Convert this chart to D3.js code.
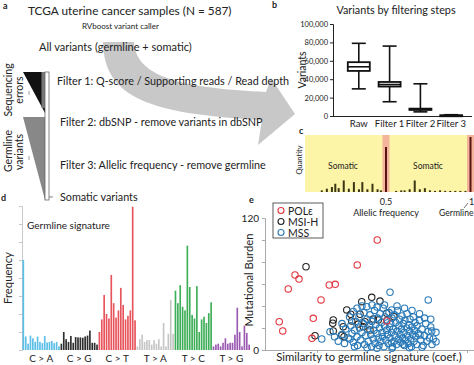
<!DOCTYPE html>
<html><head><meta charset="utf-8">
<script src="https://cdn.jsdelivr.net/npm/d3@7"></script>
<style>body{margin:0;background:#fff}svg{display:block}text{font-family:Lato,'Open Sans',sans-serif;fill:#222}</style>
</head><body><svg id="c" width="474" height="365"></svg>
<script>
// ---------- Panel b data ----------
const boxCategories = ["Raw", "Filter 1", "Filter 2", "Filter 3"];
const boxMin = [29500, 15500, 4500, 150];
const boxQ1 = [49000, 32000, 6600, 350];
const boxMedian = [53500, 34200, 7200, 550];
const boxQ3 = [58500, 37000, 8000, 800];
const boxMax = [79000, 76000, 35000, 1400];
const boxTicks = [0, 20000, 40000, 60000, 80000, 100000];

// ---------- Panel c data ----------
const afValues = [0.12,0.15,0.18,0.20,0.22,0.25,0.28,0.31,0.34,0.36,0.39,0.42,0.45,0.47,
                  0.56,0.59,0.61,0.64,0.67,0.70,0.73,0.76,0.79,0.82,0.85,0.88,0.91,0.94,0.97];
const afQuantity = [3,6,9,15,7,21,6,18,5,18,5,15,5,3,
                    2,3,3,5,21,5,7,3,2,3,2,2,2,2,2];
const peakAF = [0.5, 1];
const peakQuantity = [82, 100];
const afTickLabels = ["0.5", "1"];

// ---------- Panel d data ----------
const signatureGroups = ["C > A", "C > G", "C > T", "T > A", "T > C", "T > G"];
const sigCA = [5.0,0.75,0.35,0.8,0.65,0.45,0.75,0.45,0.38,0.78,0.42,0.45,0.5,0.38,0.45,0.2];
const sigCG = [0.35,1.0,0.6,0.45,0.78,0.4,0.72,0.7,0.7,0.68,0.75,0.8,1.08,0.4,0.4,0.3];
const sigCT = [1.0,1.7,3.06,2.0,1.75,4.17,2.6,1.8,2.2,3.45,2.5,1.7,1.9,2.2,7.96,1.65];
const sigTA = [0.2,0.6,0.85,0.45,0.55,0.55,0.3,0.55,0.35,0.6,0.2,1.5,0.2,0.9,2.78,0.9];
const sigTC = [3.3,2.6,3.6,2.4,2.2,5.8,3.5,1.95,1.75,3.55,1.0,1.7,1.85,1.5,2.05,2.65];
const sigTG = [0.2,0.3,0.35,0.2,0.4,0.65,0.35,0.4,0.4,0.85,2.35,1.0,0.2,1.35,0.95,0.3];
const sigColors = ["#5bbfe8", "#2e2e2e", "#e8545c", "#c6c6c6", "#3fae58", "#9c5bb2"];

// ---------- Panel e data (similarity coef., mutational burden) ----------
const polePoints = [[0.441,100],[0.361,77.3],[0.112,68.2],[0.128,64.5],[0.085,55.5],[0.249,59.1],
  [0.273,59.7],[0.216,45.5],[0.049,25.7],[0.063,17.3],[0.185,28.8],[0.18,10.6],[0.479,26.4]];
const msihPoints = [[0.156,75.7],[0.419,47.9],[0.452,44.5],[0.379,43.9],[0.319,36.4],[0.372,32.5],
  [0.335,32.5],[0.265,27.3],[0.263,24.3],[0.339,26.4],[0.392,25.7],[0.305,21.2],[0.265,17.3],
  [0.299,13.6],[0.308,12.1],[0.192,13],[0.479,33.4],[0.508,30.3],[0.425,28.2],[0.445,27.3],
  [0.385,21.2],[0.412,18.2],[0.365,23.6]];
const mssPoints = [[0.492,52.5],[0.645,45.5],[0.399,39.4],[0.219,10],[0.252,16.6],[0.332,10],
  [0.659,17.3],[0.676,16.1],[0.665,10],[0.676,7.5],[0.545,5.2],[0.499,6.6],[0.612,13.6],[0.499,36.4],
  [0.27,12],[0.285,8],[0.3,14],[0.31,6],[0.315,19],[0.325,11],[0.335,22],[0.34,15],[0.345,7],[0.35,18],
  [0.355,26],[0.36,12],[0.362,4],[0.368,30],[0.37,20],[0.375,9],[0.38,16],[0.385,24],[0.388,34],[0.39,5],
  [0.395,13],[0.4,28],[0.402,19],[0.405,8],[0.41,22],[0.412,32],[0.415,14],[0.418,3],[0.42,26],[0.425,10],
  [0.428,18],[0.43,36],[0.432,6],[0.435,23],[0.44,15],[0.442,29],[0.445,11],[0.448,4],[0.45,20],[0.452,33],
  [0.455,8],[0.458,25],[0.46,16],[0.462,12],[0.465,38],[0.468,3],[0.47,22],[0.472,30],[0.475,9],[0.478,18],
  [0.48,27],[0.482,14],[0.485,6],[0.488,34],[0.49,21],[0.492,11],[0.495,24],[0.498,16],[0.5,29],[0.502,3],
  [0.505,19],[0.508,8],[0.51,32],[0.512,13],[0.515,25],[0.518,5],[0.52,17],[0.522,36],[0.525,10],[0.528,22],
  [0.53,28],[0.532,14],[0.535,7],[0.538,19],[0.54,31],[0.542,11],[0.545,24],[0.548,16],[0.55,4],[0.552,27],
  [0.555,9],[0.558,20],[0.56,33],[0.562,13],[0.565,6],[0.568,23],[0.57,17],[0.572,28],[0.575,10],[0.578,3],
  [0.58,21],[0.582,14],[0.585,30],[0.588,8],[0.59,18],[0.592,25],[0.595,12],[0.598,5],[0.6,22],[0.605,15],
  [0.61,27],[0.615,9],[0.62,19],[0.625,4],[0.63,13],[0.635,24],[0.64,8],[0.645,17],[0.65,11],[0.655,21],
  [0.66,5],[0.3,24],[0.33,30],[0.345,35],[0.36,38],[0.38,40],[0.42,41],[0.44,39],[0.47,41],[0.52,40],
  [0.55,38],[0.58,36],[0.61,33],[0.63,29],[0.35,3],[0.4,2],[0.44,1.5],[0.5,1.5],[0.57,2],[0.62,2.5],[0.655,28]];
const legendLabels = ["POL\u03b5", "MSI-H", "MSS"];
const legendColors = ["#e0363e", "#222222", "#2a7ab8"];

const svg = d3.select("#c");
svg.append("rect").attr("width",474).attr("height",365).attr("fill","#fff");

function txt(g, x, y, s, size, opts={}) {
  const t = g.append("text").attr("x",x).attr("y",y).attr("font-size",size).text(s);
  if (opts.anchor) t.attr("text-anchor", opts.anchor);
  if (opts.weight) t.attr("font-weight", opts.weight);
  if (opts.rotate) t.attr("transform", `rotate(-90,${x},${y})`);
  if (opts.fill) t.style("fill", opts.fill);
  return t;
}

// ================= Panel a =================
const a = svg.append("g");
a.append("path")
  .attr("d", "M103,42 C104,98 150,114 262,120 L258,145 L295,114 L271,78 L266,92 C190,88 136,80 134,42 Z")
  .attr("fill", "#c8c8c8");
txt(a, 3, 9, "a", 9, {weight:"bold"});
txt(a, 28, 15, "TCGA uterine cancer samples (N = 587)", 11.8);
txt(a, 82, 29, "RVboost variant caller", 8);
txt(a, 39, 51, "All variants (germline + somatic)", 11);
txt(a, 57, 85, "Filter 1: Q-score / Supporting reads / Read depth", 10.8);
txt(a, 60, 126, "Filter 2: dbSNP - remove variants in dbSNP", 10.8);
txt(a, 60, 169, "Filter 3: Allelic frequency - remove germline", 10.8);
txt(a, 60, 201, "Somatic variants", 10.8);
a.append("polygon").attr("points","23,117 45,117 45,200").attr("fill","#888");
a.append("polygon").attr("points","23,72 45,72 45,113").attr("fill","#111");
a.append("rect").attr("x",41.5).attr("y",72).attr("width",3.5).attr("height",36).attr("fill","#777");
a.append("rect").attr("x",45).attr("y",72).attr("width",4).attr("height",128)
  .attr("fill","#fff").attr("stroke","#666").attr("stroke-width",0.8);
a.append("line").attr("x1",29).attr("x2",29).attr("y1",91).attr("y2",95).attr("stroke","#888").attr("stroke-width",0.8);
a.append("line").attr("x1",29).attr("x2",29).attr("y1",156).attr("y2",160).attr("stroke","#888").attr("stroke-width",0.8);
a.append("line").attr("x1",49).attr("x2",53).attr("y1",197).attr("y2",197).attr("stroke","#666").attr("stroke-width",0.8);
txt(a, 12, 90, "Sequencing", 10.5, {anchor:"middle", rotate:true});
txt(a, 23, 90, "errors", 10.5, {anchor:"middle", rotate:true});
txt(a, 12, 151, "Germline", 10.5, {anchor:"middle", rotate:true});
txt(a, 23, 152, "variants", 10.5, {anchor:"middle", rotate:true});

// ================= Panel b =================
const b = svg.append("g");
txt(b, 272, 8, "b", 9, {weight:"bold"});
txt(b, 396, 14, "Variants by filtering steps", 10.8, {anchor:"middle"});
const by = d3.scaleLinear().domain([0,100000]).range([116,24]);
const bx = d3.scaleBand().domain(boxCategories).range([338,472]).padding(0.35);
const yAxB = b.append("g").attr("transform","translate(333,0)")
  .call(d3.axisLeft(by).tickValues(boxTicks).tickFormat(d3.format(",")).tickSize(3).tickPadding(2));
yAxB.selectAll("text").attr("font-size",7.5).style("font-family","Lato,sans-serif");
yAxB.selectAll("path,line").attr("stroke","#222");
const xAxB = b.append("g").attr("transform","translate(0,116)")
  .call(d3.axisBottom(bx).tickSize(0).tickPadding(4));
xAxB.select("path").attr("d","M333,0.5H472").attr("stroke","#222");
xAxB.selectAll("text").attr("font-size",9.5).style("font-family","Lato,sans-serif");
txt(b, 306, 70, "Variants", 10.5, {anchor:"middle", rotate:true});
boxCategories.forEach((c,i) => {
  const cx = bx(c) + bx.bandwidth()/2, w = 22, cw = 14;
  const g = b.append("g").attr("stroke","#111").attr("stroke-width",1.6).attr("fill","none");
  g.append("line").attr("x1",cx).attr("x2",cx).attr("y1",by(boxMax[i])).attr("y2",by(boxMin[i]));
  g.append("line").attr("x1",cx-cw/2).attr("x2",cx+cw/2).attr("y1",by(boxMax[i])).attr("y2",by(boxMax[i]));
  g.append("line").attr("x1",cx-cw/2).attr("x2",cx+cw/2).attr("y1",by(boxMin[i])).attr("y2",by(boxMin[i]));
  g.append("rect").attr("x",cx-w/2).attr("width",w).attr("y",by(boxQ3[i]))
    .attr("height",Math.max(1,by(boxQ1[i])-by(boxQ3[i]))).attr("fill","#fff").attr("stroke-width",1.8);
  g.append("line").attr("x1",cx-w/2).attr("x2",cx+w/2).attr("y1",by(boxMedian[i])).attr("y2",by(boxMedian[i]));
});

// ================= Panel c =================
const c = svg.append("g");
txt(c, 299, 134, "c", 9, {weight:"bold"});
const cx = d3.scaleLinear().domain([0,1]).range([301.5,470.5]);
const cy = d3.scaleLinear().domain([0,100]).range([192,137]);
c.append("rect").attr("x",305).attr("y",135).attr("width",169).attr("height",57).attr("fill","#fcf5a8");
peakAF.forEach(v => c.append("rect").attr("x",cx(v)-3.5).attr("y",135).attr("width",7).attr("height",57).attr("fill","#f4b49c"));
c.selectAll(".pk").data(peakAF).enter().append("line")
  .attr("x1",d=>cx(d)).attr("x2",d=>cx(d)).attr("y1",192).attr("y2",(d,i)=>cy(peakQuantity[i]))
  .attr("stroke","#5a1212").attr("stroke-width",2);
c.selectAll(".sb").data(afValues).enter().append("rect")
  .attr("x",d=>cx(d)-1).attr("width",2).attr("y",(d,i)=>cy(afQuantity[i]))
  .attr("height",(d,i)=>192-cy(afQuantity[i])).attr("fill","#3b3616");
txt(c, 343, 169, "Somatic", 8.5, {anchor:"middle"});
txt(c, 428, 169, "Somatic", 8.5, {anchor:"middle"});
txt(c, 302, 160, "Quantity", 7.5, {anchor:"middle", rotate:true});
afTickLabels.forEach((s,i) => txt(c, cx(peakAF[i]) + (i?1:0), 205, s, 9, {anchor:"middle"}));
txt(c, 386, 216, "Allelic frequency", 9, {anchor:"middle"});
txt(c, 473.5, 216, "Germline", 8.6, {anchor:"end"});
c.append("line").attr("x1",464).attr("y1",208).attr("x2",468).attr("y2",203).attr("stroke","#333").attr("stroke-width",0.7);

// ================= Panel d =================
const d = svg.append("g");
txt(d, 1, 201, "d", 9, {weight:"bold"});
const sigAll = [sigCA, sigCG, sigCT, sigTA, sigTC, sigTG];
const bars = [];
sigAll.forEach((arr,gi) => arr.forEach((v,j) => bars.push({i: gi*16+j, g: gi, v})));
const dx = d3.scaleBand().domain(d3.range(96)).range([22.5,250]).paddingInner(0.3);
const dy = d3.scaleLinear().domain([0,8]).range([350,206]);
const dAx = d.append("g").attr("transform","translate(22,0)")
  .call(d3.axisLeft(dy).ticks(8).tickSize(3).tickFormat(""));
dAx.selectAll("path,line").attr("stroke","#c8c8c8");
d.selectAll(".bar").data(bars).enter().append("rect")
  .attr("x",e=>dx(e.i)).attr("width",dx.bandwidth()).attr("y",e=>dy(e.v))
  .attr("height",e=>350-dy(e.v)).attr("fill",e=>sigColors[e.g]);
signatureGroups.forEach((s,gi) => {
  const x0 = dx(gi*16), x1 = dx(gi*16+15)+dx.bandwidth();
  txt(d, (x0+x1)/2, 362, s, 10, {anchor:"middle"});
});
txt(d, 27, 229, "Germline signature", 10);
txt(d, 12, 278, "Frequency", 11.3, {anchor:"middle", rotate:true});

// ================= Panel e =================
const e = svg.append("g");
txt(e, 249, 203, "e", 9, {weight:"bold"});
const ex = d3.scaleLinear().domain([0,1]).range([267,517]);
const ey = d3.scaleLinear().domain([0,120]).range([350,218]);
const eyAx = e.append("g").attr("transform","translate(265,0)")
  .call(d3.axisLeft(ey).tickValues([0,20,40,60,80,100,120]).tickSize(3)
  .tickFormat(v => (v===0||v===120) ? v : ""));
eyAx.selectAll("path,line").attr("stroke","#aaa");
eyAx.selectAll("text").attr("font-size",10).style("font-family","Lato,sans-serif");
const exAx = e.append("g").attr("transform","translate(0,350)")
  .call(d3.axisBottom(ex).tickValues([0.2,0.4,0.6,0.8]).tickSize(3).tickFormat(""));
exAx.select("path").attr("d","M265,0.5H474");
exAx.selectAll("path,line").attr("stroke","#aaa");
txt(e, 253, 280, "Mutational Burden", 11.3, {anchor:"middle", rotate:true});
txt(e, 369, 361, "Similarity to germline signature (coef.)", 11.3, {anchor:"middle"});
const groups = [[msihPoints,1],[mssPoints,2],[polePoints,0]];
groups.forEach(([pts,ci]) => {
  e.selectAll(null).data(pts).enter().append("circle")
    .attr("cx",p=>ex(p[0])).attr("cy",p=>ey(p[1])).attr("r",3.2)
    .attr("fill","none").attr("stroke",legendColors[ci]).attr("stroke-width",1.1);
});
const lg = e.append("g");
lg.append("rect").attr("x",273).attr("y",203).attr("width",50).attr("height",35)
  .attr("fill","#fff").attr("stroke","#333").attr("stroke-width",0.8);
legendLabels.forEach((s,i) => {
  lg.append("circle").attr("cx",281).attr("cy",210.5+i*11).attr("r",3).attr("fill","none")
    .attr("stroke",legendColors[i]).attr("stroke-width",1.1);
  txt(lg, 288, 214.5+i*11, s, 10.5);
});
</script></body></html>
